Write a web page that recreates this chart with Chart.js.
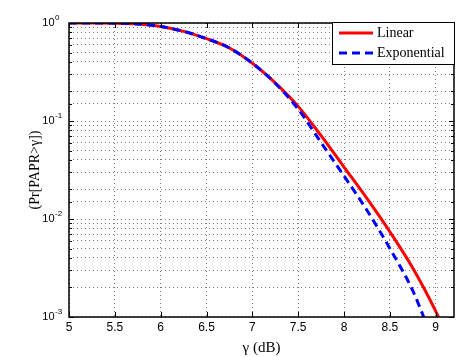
<!DOCTYPE html>
<html>
<head>
<meta charset="utf-8">
<script src="https://cdn.jsdelivr.net/npm/chart.js@4"></script>
<style>
html,body{margin:0;padding:0;background:#fff;}
#wrap{width:474px;height:357px;position:relative;}
</style>
</head>
<body>
<div id="wrap"><canvas id="c" width="474" height="357"></canvas></div>
<script>
// ---- data ----
const seriesNames = ["Linear", "Exponential"];
const linearX = [5.0, 5.25, 5.5, 5.75, 6.0, 6.25, 6.5, 6.75, 7.0, 7.25, 7.5, 7.75, 8.0, 8.25, 8.5, 8.75, 9.0, 9.03];
const linearP = [1.0, 0.9988, 0.9954, 0.977, 0.923, 0.822, 0.692, 0.556, 0.389, 0.245, 0.141, 0.0708, 0.0339, 0.0162, 0.00741, 0.00316, 0.00115, 0.001];
const expX = [5.0, 5.25, 5.5, 5.75, 6.0, 6.25, 6.5, 6.75, 7.0, 7.25, 7.5, 7.75, 8.0, 8.25, 8.5, 8.75, 8.87];
const expP = [1.0, 0.9988, 0.9954, 0.977, 0.923, 0.822, 0.692, 0.556, 0.389, 0.243, 0.132, 0.0603, 0.0275, 0.0123, 0.00501, 0.00186, 0.001];
const xTicks = [5, 5.5, 6, 6.5, 7, 7.5, 8, 8.5, 9];
const yDecades = [1, 0.1, 0.01, 0.001];
const yDecadeExps = ["0", "-1", "-2", "-3"];
const xTitle = "\u03b3 (dB)";
const yTitle = "(Pr[PAPR>\u03b3])";

const toPts = (xs, ys) => xs.map((x, i) => ({x: x, y: ys[i]}));

const SANS = "'Liberation Sans', Arial, Helvetica, sans-serif";
const SERIF = "'Liberation Serif', 'Times New Roman', serif";

const decorPlugin = {
  id: 'decor',
  afterDraw(chart) {
    const ctx = chart.ctx;
    const a = chart.chartArea;
    const xs = chart.scales.x, ys = chart.scales.y;
    ctx.save();
    // inner tick marks
    ctx.strokeStyle = '#000';
    ctx.lineWidth = 1;
    ctx.beginPath();
    xTicks.forEach(v => {
      const px = Math.round(xs.getPixelForValue(v)) + 0.5;
      ctx.moveTo(px, a.bottom); ctx.lineTo(px, a.bottom - 5);
      ctx.moveTo(px, a.top); ctx.lineTo(px, a.top + 5);
    });
    ys.ticks.forEach(t => {
      const py = Math.round(ys.getPixelForValue(t.value)) + 0.5;
      const major = yDecades.some(d => Math.abs(d - t.value) / d < 1e-6);
      const len = major ? 5 : 3;
      ctx.moveTo(a.left, py); ctx.lineTo(a.left + len, py);
      ctx.moveTo(a.right, py); ctx.lineTo(a.right - len, py);
    });
    ctx.stroke();
    // frame
    ctx.lineWidth = 1.5;
    ctx.strokeRect(a.left, a.top, a.right - a.left, a.bottom - a.top);
    // y tick labels with superscripts
    ctx.fillStyle = '#000';
    yDecades.forEach((d, i) => {
      const py = ys.getPixelForValue(d);
      ctx.font = "11px " + SANS;
      ctx.textAlign = 'right';
      ctx.textBaseline = 'middle';
      ctx.fillText("10", 54.5, py);
      ctx.font = "8px " + SANS;
      ctx.textAlign = 'left';
      ctx.textBaseline = 'alphabetic';
      ctx.fillText(yDecadeExps[i], 55, py - 3);
    });
    // legend box
    const lx = 332, ly = 22, lw = 122, lh = 42;
    ctx.fillStyle = '#fff';
    ctx.fillRect(lx, ly, lw, lh);
    ctx.lineWidth = 1;
    ctx.strokeStyle = '#000';
    ctx.strokeRect(lx + 0.5, ly + 0.5, lw, lh);
    const rows = [
      {name: seriesNames[0], color: '#ff0000', dash: [], y: 33},
      {name: seriesNames[1], color: '#0000ff', dash: [8, 5], y: 53}
    ];
    rows.forEach(r => {
      ctx.beginPath();
      ctx.setLineDash(r.dash);
      ctx.strokeStyle = r.color;
      ctx.lineWidth = 3;
      ctx.moveTo(339, r.y); ctx.lineTo(373, r.y);
      ctx.stroke();
      ctx.setLineDash([]);
      ctx.fillStyle = '#000';
      ctx.font = "14px " + SERIF;
      ctx.textAlign = 'left';
      ctx.textBaseline = 'middle';
      ctx.fillText(r.name, 377, r.y);
    });
    ctx.restore();
  }
};

new Chart(document.getElementById('c'), {
  type: 'line',
  data: {
    datasets: [
      {
        label: seriesNames[0],
        data: toPts(linearX, linearP),
        borderColor: '#ff0000',
        backgroundColor: '#ff0000',
        borderWidth: 3,
        pointRadius: 0,
        cubicInterpolationMode: 'monotone',
        order: 1
      },
      {
        label: seriesNames[1],
        data: toPts(expX, expP),
        borderColor: '#0000ff',
        backgroundColor: '#0000ff',
        borderWidth: 3,
        borderDash: [8, 5],
        pointRadius: 0,
        cubicInterpolationMode: 'monotone',
        order: 0
      }
    ]
  },
  options: {
    responsive: false,
    animation: false,
    devicePixelRatio: 1,
    layout: {padding: {left: 10, right: 20, top: 23, bottom: 0}},
    plugins: {legend: {display: false}, tooltip: {enabled: false}},
    scales: {
      x: {
        type: 'linear',
        min: 5, max: 9.2,
        border: {display: false, dash: [1, 3]},
        grid: {color: 'rgba(0,0,0,0.5)', drawTicks: false, lineWidth: 1},
        ticks: {
          stepSize: 0.5, includeBounds: false, autoSkip: false, maxRotation: 0,
          padding: 5, color: '#000',
          font: {family: SANS, size: 12, lineHeight: 1},
          callback: v => (xTicks.includes(v) ? String(v) : '')
        },
        title: {display: true, text: xTitle, color: '#000', padding: {top: 0, bottom: 0},
                font: {family: SERIF, size: 15, lineHeight: 1.2}}
      },
      y: {
        type: 'logarithmic',
        min: 0.001, max: 1,
        border: {display: false, dash: [1, 3]},
        grid: {color: 'rgba(0,0,0,0.5)', drawTicks: false, lineWidth: 1},
        ticks: {display: false, autoSkip: false},
        title: {display: true, text: yTitle, color: '#000', padding: {top: 17, bottom: 25.2},
                font: {family: SERIF, size: 14, lineHeight: 1.2}}
      }
    }
  },
  plugins: [decorPlugin]
});
</script>
</body>
</html>
